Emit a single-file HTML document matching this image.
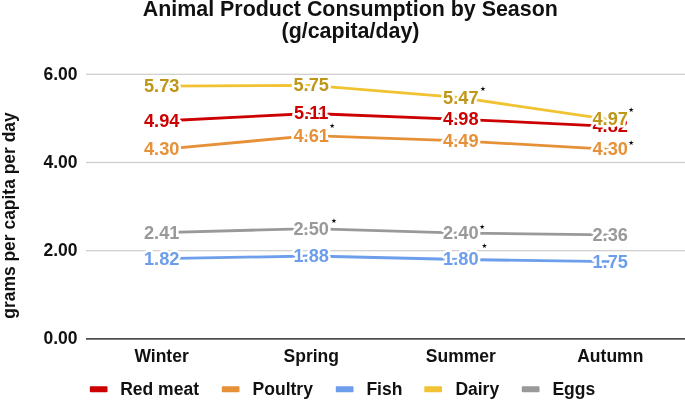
<!DOCTYPE html>
<html><head><meta charset="utf-8"><title>Animal Product Consumption by Season</title>
<style>
html,body{margin:0;padding:0;background:#fff;}
svg{display:block;filter:blur(0.35px);font-family:"Liberation Sans",Arial,sans-serif;font-weight:bold;}
.t{font-size:21.42px;fill:#111;text-anchor:middle;}
.ax{font-size:17.5px;fill:#111;}
.lb{font-size:18.2px;text-anchor:middle;stroke:#fff;stroke-width:5px;stroke-linejoin:round;paint-order:stroke fill;}
.st{font-family:"DejaVu Sans",sans-serif;font-size:6.5px;fill:#111;text-anchor:middle;font-weight:normal;}
</style></head><body>
<svg width="685" height="400" viewBox="0 0 685 400">
<rect width="685" height="400" fill="#fff"/>
<text class="t" x="350.3" y="16.4">Animal Product Consumption by Season</text>
<text class="t" x="350.5" y="38.4">(g/capita/day)</text>

<rect x="86" y="73.70" width="599" height="1.2" fill="#cccccc"/>
<rect x="86" y="161.90" width="599" height="1.2" fill="#cccccc"/>
<rect x="86" y="250.10" width="599" height="1.2" fill="#cccccc"/>
<rect x="86" y="338.15" width="599" height="1.5" fill="#333333"/>
<text class="ax" x="77.5" y="79.80" text-anchor="end">6.00</text>
<text class="ax" x="77.5" y="168.00" text-anchor="end">4.00</text>
<text class="ax" x="77.5" y="256.20" text-anchor="end">2.00</text>
<text class="ax" x="77.5" y="344.40" text-anchor="end">0.00</text>
<text class="ax" style="font-size:17.45px" transform="translate(14.7,215.5) rotate(-90)" text-anchor="middle">grams per capita per day</text>
<text class="ax" x="161.6" y="361.7" text-anchor="middle">Winter</text>
<text class="ax" x="311.3" y="361.7" text-anchor="middle">Spring</text>
<text class="ax" x="460.8" y="361.7" text-anchor="middle">Summer</text>
<text class="ax" x="610.3" y="361.7" text-anchor="middle">Autumn</text>
<polyline points="161.7,121.0 311.2,113.5 460.8,119.3 610.2,126.3" fill="none" stroke="#cc0000" stroke-width="2.8" stroke-linecap="round" stroke-linejoin="round"/>
<polyline points="161.7,149.3 311.2,135.6 460.8,140.9 610.2,149.3" fill="none" stroke="#e69138" stroke-width="2.8" stroke-linecap="round" stroke-linejoin="round"/>
<polyline points="161.7,258.6 311.2,256.0 460.8,259.5 610.2,261.7" fill="none" stroke="#6d9eeb" stroke-width="2.8" stroke-linecap="round" stroke-linejoin="round"/>
<polyline points="161.7,86.2 311.2,85.3 460.8,97.7 610.2,119.7" fill="none" stroke="#f1c232" stroke-width="2.8" stroke-linecap="round" stroke-linejoin="round"/>
<polyline points="161.7,232.6 311.2,228.6 460.8,233.1 610.2,234.8" fill="none" stroke="#999999" stroke-width="2.8" stroke-linecap="round" stroke-linejoin="round"/>
<text class="lb" x="161.7" y="126.9" fill="#cc0000">4.94</text>
<text class="lb" x="311.2" y="119.4" fill="#cc0000">5.11</text>
<text class="lb" x="460.8" y="125.2" fill="#cc0000">4.98</text>
<text class="lb" x="610.2" y="132.2" fill="#cc0000">4.82</text>
<text class="lb" x="161.7" y="155.2" fill="#e69138">4.30</text>
<text class="lb" x="311.2" y="141.5" fill="#e69138">4.61</text>
<text class="lb" x="460.8" y="146.8" fill="#e69138">4.49</text>
<text class="lb" x="610.2" y="155.2" fill="#e69138">4.30</text>
<text class="lb" x="161.7" y="264.5" fill="#6d9eeb">1.82</text>
<text class="lb" x="311.2" y="261.9" fill="#6d9eeb">1.88</text>
<text class="lb" x="460.8" y="265.4" fill="#6d9eeb">1.80</text>
<text class="lb" x="610.2" y="267.6" fill="#6d9eeb">1.75</text>
<text class="lb" x="161.7" y="92.1" fill="#bf9618">5.73</text>
<text class="lb" x="311.2" y="91.2" fill="#bf9618">5.75</text>
<text class="lb" x="460.8" y="103.6" fill="#bf9618">5.47</text>
<text class="lb" x="610.2" y="125.0" fill="#bf9618">4.97</text>
<text class="lb" x="161.7" y="238.5" fill="#999999">2.41</text>
<text class="lb" x="311.2" y="234.5" fill="#999999">2.50</text>
<text class="lb" x="460.8" y="239.0" fill="#999999">2.40</text>
<text class="lb" x="610.2" y="240.7" fill="#999999">2.36</text>
<text class="st" x="332.1" y="128.2">★</text>
<text class="st" x="333.9" y="222.6">★</text>
<text class="st" x="482.8" y="91.0">★</text>
<text class="st" x="482.2" y="228.6">★</text>
<text class="st" x="484.3" y="247.8">★</text>
<text class="st" x="631.1" y="112.1">★</text>
<text class="st" x="631.1" y="144.5">★</text>
<rect x="89.8" y="386.2" width="17.7" height="6" rx="0.8" fill="#cc0000"/>
<text class="ax" x="120.2" y="395.0">Red meat</text>
<rect x="221.8" y="386.2" width="17.7" height="6" rx="0.8" fill="#e69138"/>
<text class="ax" x="252.6" y="395.0">Poultry</text>
<rect x="335.8" y="386.2" width="17.7" height="6" rx="0.8" fill="#6d9eeb"/>
<text class="ax" x="366.4" y="395.0">Fish</text>
<rect x="424.3" y="386.2" width="17.7" height="6" rx="0.8" fill="#f1c232"/>
<text class="ax" x="455.4" y="395.0">Dairy</text>
<rect x="521.8" y="386.2" width="17.7" height="6" rx="0.8" fill="#999999"/>
<text class="ax" x="552.4" y="395.0">Eggs</text>
</svg></body></html>
